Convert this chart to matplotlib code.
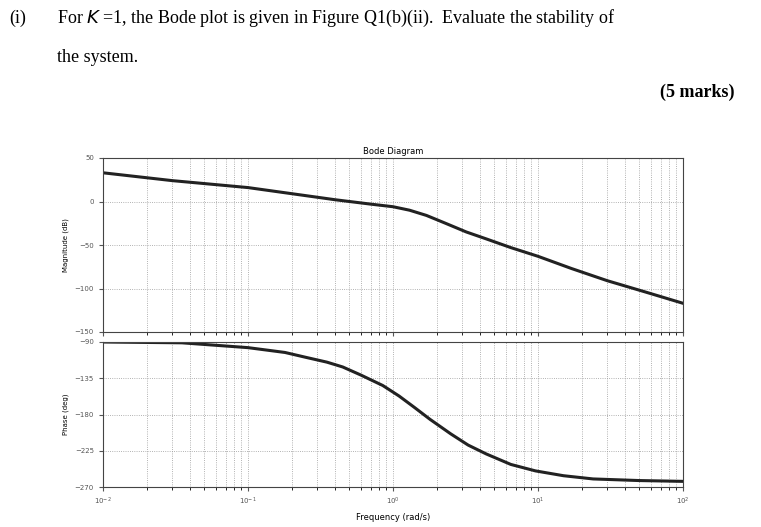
import numpy as np
import matplotlib.pyplot as plt

# values
w_mag = [0.01, 0.03, 0.1, 0.2, 0.4, 0.7, 1, 1.3, 1.7, 2.3, 3.2, 4.4, 6.5, 10, 17, 30, 55, 100]
mag_db = [33, 24, 16, 9, 2, -3, -6, -10, -16, -25, -35, -43, -53, -63, -77, -91, -104, -117]
w_ph = [0.01, 0.035, 0.1, 0.18, 0.25, 0.35, 0.45, 0.6, 0.85, 1.1, 1.4, 1.8, 2.5, 3.3, 4.4, 6.5, 9.6, 15, 24, 50, 100]
phase = [-90, -91, -97, -103, -109, -115, -121, -131, -144, -157, -171, -186, -204, -218, -229, -242, -250, -256, -260, -262, -263]

fig = plt.figure(figsize=(7.61, 5.27), dpi=100)
serif = 'Liberation Serif'
fig.text(0.012, 0.965, '(i)', fontsize=13, family=serif, va='center')
fig.text(0.075, 0.965, 'For $K$ =1, the Bode plot is given in Figure Q1(b)(ii).  Evaluate the stability of',
         fontsize=13, family=serif, va='center')
fig.text(0.075, 0.89, 'the system.', fontsize=13, family=serif, va='center')
fig.text(0.965, 0.825, '(5 marks)', fontsize=13, family=serif, va='center', ha='right', weight='bold')

ax1 = fig.add_axes([103/761, 1-332/527, 580/761, 174/527])
ax2 = fig.add_axes([103/761, 1-487/527, 580/761, 145/527])

ax1.semilogx(w_mag, mag_db, color='#222222', lw=2.2)
ax1.set_ylim(-150, 50)
ax1.set_yticks([-150, -100, -50, 0, 50])
ax1.set_ylabel('Magnitude (dB)', fontsize=5)
ax1.set_title('Bode Diagram', fontsize=6, pad=3)
ax1.tick_params(labelbottom=False)

ax2.semilogx(w_ph, phase, color='#222222', lw=2.2)
ax2.set_ylim(-270, -90)
ax2.set_yticks([-270, -225, -180, -135, -90])
ax2.set_ylabel('Phase (deg)', fontsize=5)
ax2.set_xlabel('Frequency (rad/s)', fontsize=6)

for ax in (ax1, ax2):
    ax.set_xlim(0.01, 100)
    ax.grid(True, which='both', ls=':', color='#999999', lw=0.6)
    ax.tick_params(labelsize=5, colors='#555555', length=3)
    for s in ax.spines.values():
        s.set_color('#444444')

fig.savefig('out.png', dpi=100)
